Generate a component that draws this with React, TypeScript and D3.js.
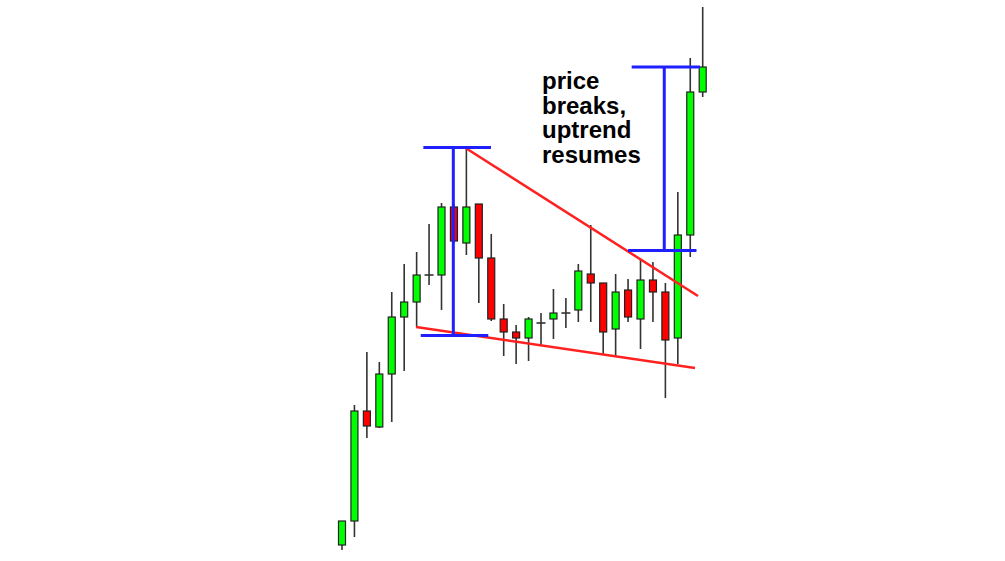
import React, { useEffect, useRef } from "react";
import * as d3 from "d3";

// price = chart units
const opens = [15, 39, 149, 133, 186, 243, 258, 285, 285, 353, 317, 356, 302, 241, 228, 222, 237, 241, 247, 250, 286, 277, 231, 270, 241, 280, 268, 222, 325, 468];
const highs = [39, 155, 208, 198, 268, 296, 308, 336, 357, 356, 414, 356, 326, 256, 235, 243, 247, 271, 262, 296, 335, 277, 286, 281, 301, 298, 277, 368, 502, 553];
const lows = [10, 23, 122, 132, 138, 189, 233, 275, 250, 317, 305, 257, 239, 204, 196, 199, 215, 221, 232, 238, 238, 206, 204, 238, 211, 238, 162, 196, 303, 463];
const closes = [39, 149, 134, 186, 243, 258, 285, 285, 353, 319, 353, 302, 241, 228, 222, 241, 237, 247, 247, 289, 277, 228, 268, 243, 280, 268, 220, 325, 468, 493];

// trend lines: [index, price] pairs
const upperTrend: [number, number][] = [[9.81, 413], [28.62, 264]];
const lowerTrend: [number, number][] = [[5.95, 233], [28.38, 192]];

// measuring brackets: vertical at x, from-to prices, and the two horizontal caps
const brackets = [
    { x: 8.95, top: 412.5, bottom: 224.5, topCap: [6.54, 11.98], bottomCap: [6.33, 11.76] },
    { x: 25.91, top: 493, bottom: 309.5, topCap: [23.29, 28.78], bottomCap: [23.0, 28.5] },
];

const noteLines = ["price", "breaks,", "uptrend", "resumes"];
const notePos = { index: 16.08, price: 471 };

const App: React.FC = () => {
    const svgRef = useRef<SVGSVGElement | null>(null);
    const width = 1005;
    const height = 561;

    useEffect(() => {
        const svg = d3.select(svgRef.current);
        svg.selectAll("*").remove();

        const x = d3.scaleLinear().domain([0, 29]).range([342, 702.7]);
        const y = d3.scaleLinear().domain([0, 560]).range([560, 0]);

        const data = opens.map((o, i) => ({ i, open: o, high: highs[i], low: lows[i], close: closes[i] }));

        const g = svg.append("g");

        // wicks
        g.selectAll("line.wick")
            .data(data)
            .join("line")
            .attr("class", "wick")
            .attr("x1", (d) => x(d.i))
            .attr("x2", (d) => x(d.i))
            .attr("y1", (d) => y(d.high))
            .attr("y2", (d) => y(d.low))
            .attr("stroke", "#333")
            .attr("stroke-width", 1.6);

        // bodies
        const bodyW = 7;
        g.selectAll("rect.body")
            .data(data.filter((d) => d.open !== d.close))
            .join("rect")
            .attr("class", "body")
            .attr("x", (d) => x(d.i) - bodyW / 2)
            .attr("y", (d) => y(Math.max(d.open, d.close)))
            .attr("width", bodyW)
            .attr("height", (d) => Math.abs(y(d.open) - y(d.close)))
            .attr("fill", (d) => (d.close > d.open ? "#00ff00" : "#ff0000"))
            .attr("stroke", "#222")
            .attr("stroke-width", 1.2);

        // doji
        g.selectAll("line.doji")
            .data(data.filter((d) => d.open === d.close))
            .join("line")
            .attr("class", "doji")
            .attr("x1", (d) => x(d.i) - bodyW / 2 - 1)
            .attr("x2", (d) => x(d.i) + bodyW / 2 + 1)
            .attr("y1", (d) => y(d.open))
            .attr("y2", (d) => y(d.open))
            .attr("stroke", "#333")
            .attr("stroke-width", 1.6);

        // trend lines
        const line = d3.line<[number, number]>()
            .x((d) => x(d[0]))
            .y((d) => y(d[1]));
        [upperTrend, lowerTrend].forEach((t) => {
            svg.append("path")
                .attr("d", line(t))
                .attr("fill", "none")
                .attr("stroke", "#ff2020")
                .attr("stroke-width", 2.5);
        });

        // blue brackets
        brackets.forEach((b) => {
            const bg = svg.append("g").attr("stroke", "#1f1fff").attr("stroke-width", 3);
            bg.append("line").attr("x1", x(b.x)).attr("x2", x(b.x)).attr("y1", y(b.top)).attr("y2", y(b.bottom));
            bg.append("line").attr("x1", x(b.topCap[0])).attr("x2", x(b.topCap[1])).attr("y1", y(b.top)).attr("y2", y(b.top));
            bg.append("line").attr("x1", x(b.bottomCap[0])).attr("x2", x(b.bottomCap[1])).attr("y1", y(b.bottom)).attr("y2", y(b.bottom));
        });

        // annotation
        const text = svg.append("text")
            .attr("x", x(notePos.index))
            .attr("y", y(notePos.price))
            .style("font-family", "'Liberation Sans', Arial, sans-serif")
            .style("font-size", "24px")
            .style("font-weight", "bold")
            .attr("fill", "#000");
        noteLines.forEach((t, k) => {
            text.append("tspan")
                .attr("x", x(notePos.index))
                .attr("dy", k === 0 ? 0 : 24.7)
                .text(t);
        });
    }, []);

    return (
        <svg
            ref={svgRef}
            width={width}
            height={height}
            style={{ position: "absolute", left: 0, top: 0, background: "#fff", display: "block" }}
        ></svg>
    );
};

export default App;
